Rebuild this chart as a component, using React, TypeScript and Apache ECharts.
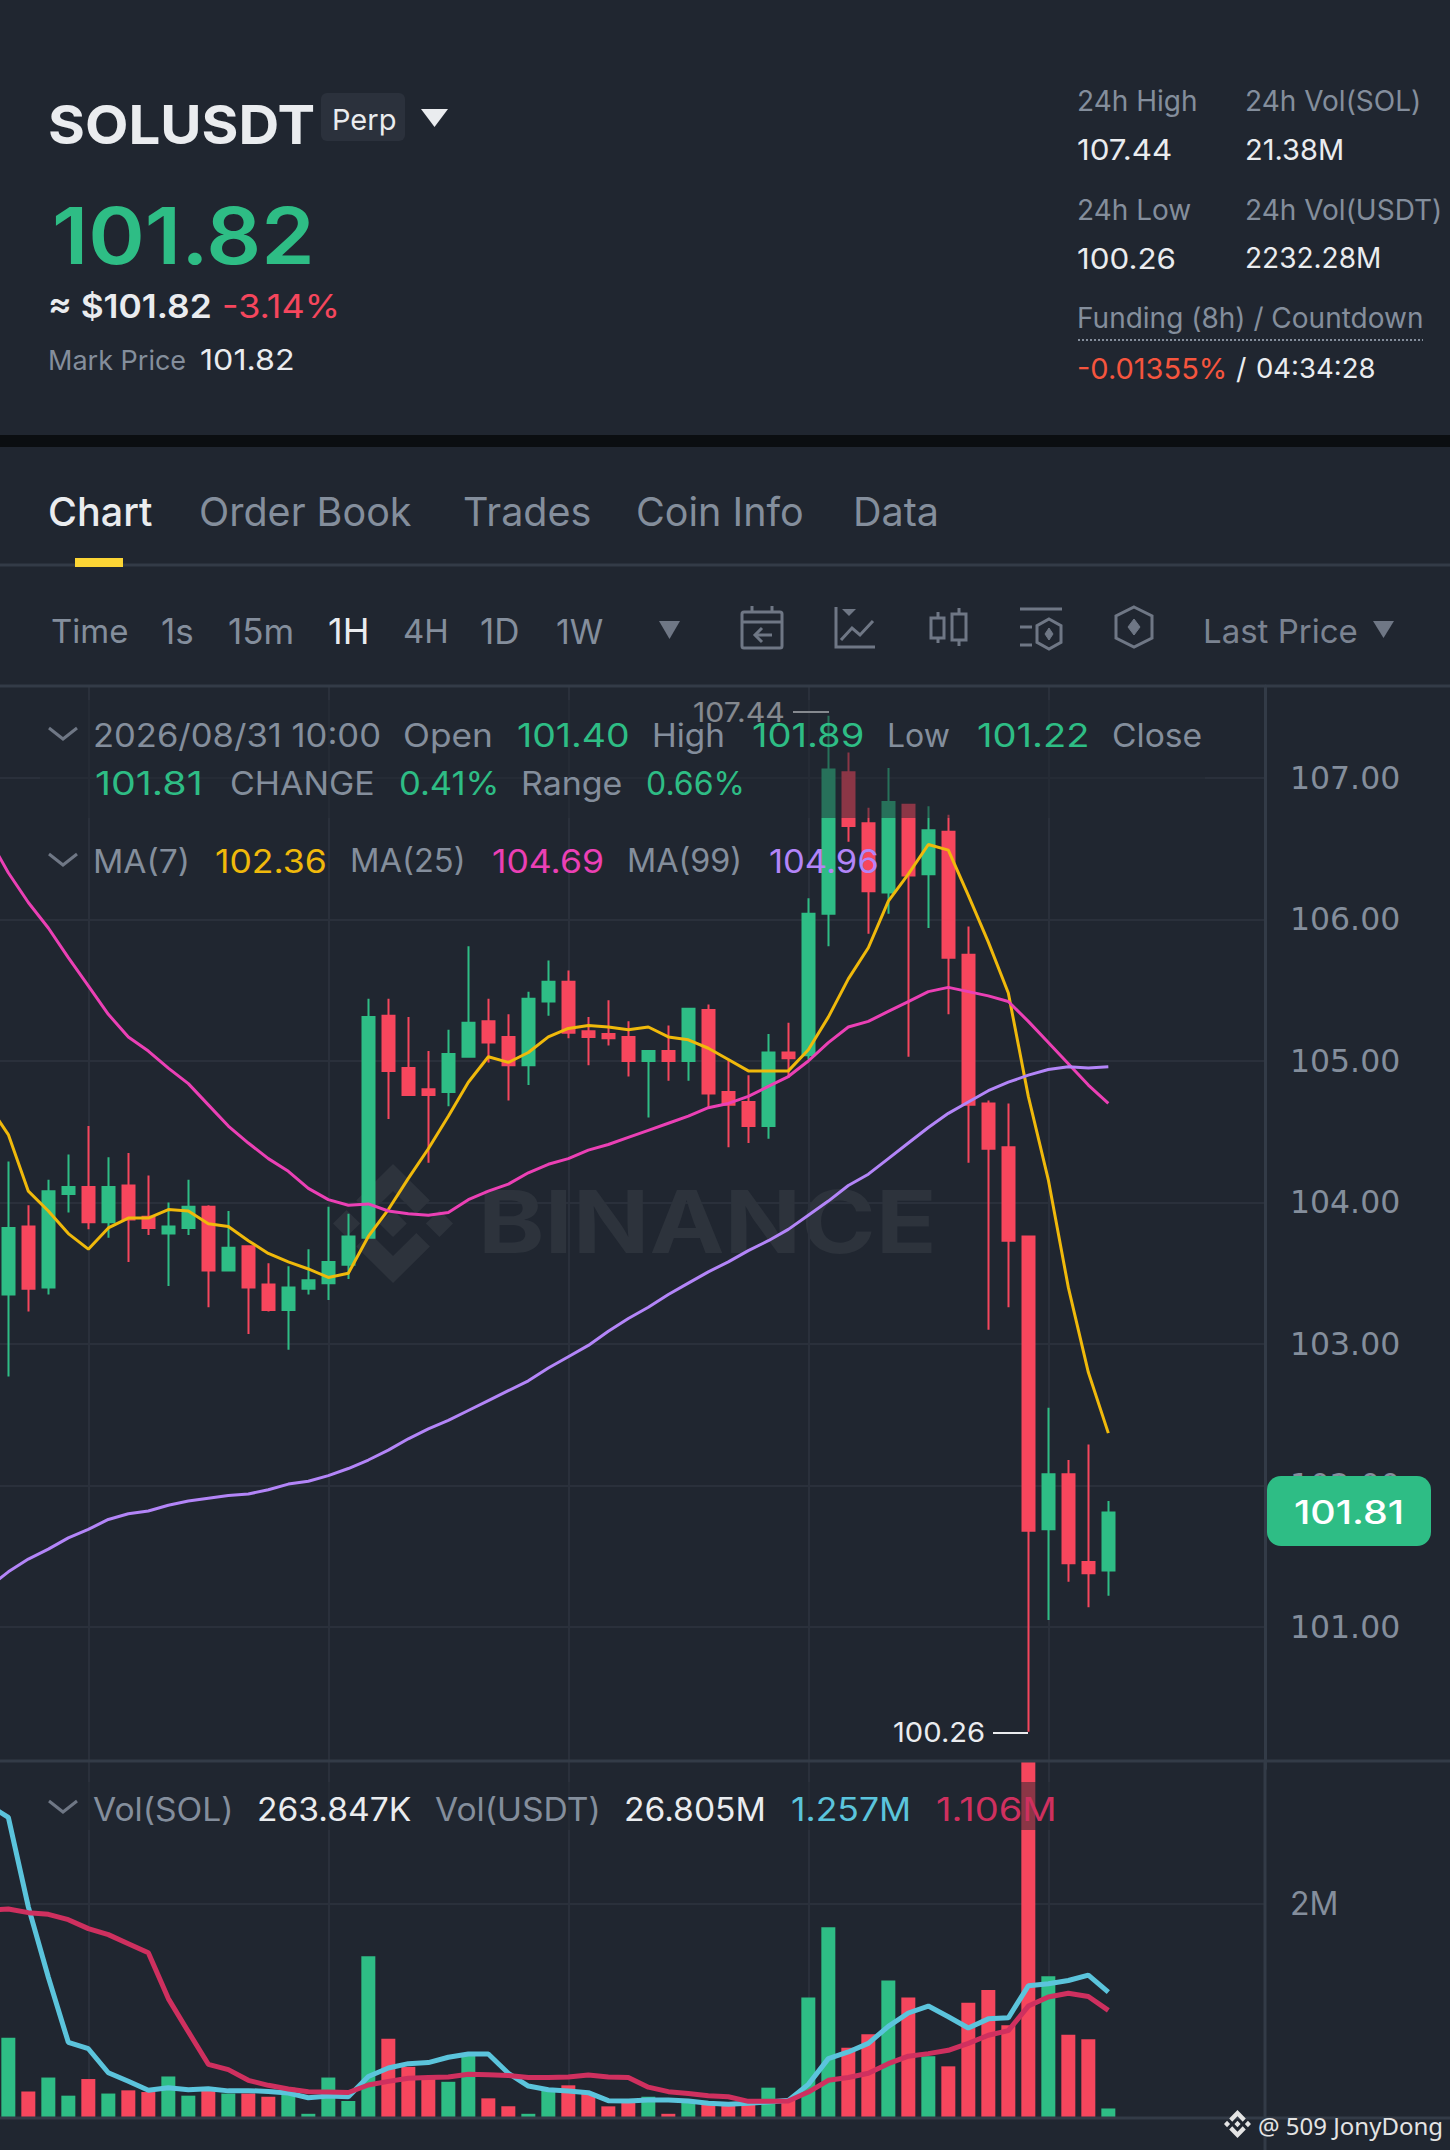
import React, { useEffect, useRef } from "react";
import * as echarts from "echarts";

// ---------- data (index 0 is the first candle visible on screen) ----------
const opens = [103.35,103.83,103.40,104.06,104.11,103.86,104.12,103.90,103.78,103.82,103.97,103.52,103.69,103.42,103.24,103.39,103.43,103.56,103.75,105.32,104.95,104.80,104.78,105.03,105.28,105.17,104.97,105.42,105.56,105.21,105.19,105.17,105.00,105.07,105.00,105.36,104.78,104.71,104.54,105.06,105.04,106.04,107.04,106.68,106.19,106.81,106.32,106.62,105.75,104.70,104.39,103.76,101.69,102.08,101.46,101.40];
const closes = [103.82,103.39,104.08,104.11,103.86,104.11,103.88,103.82,103.83,103.97,103.52,103.68,103.40,103.24,103.40,103.45,103.58,103.76,105.31,104.93,104.76,104.76,105.05,105.27,105.13,104.97,105.44,105.56,105.20,105.17,105.16,105.00,105.07,105.00,105.37,104.77,104.69,104.54,105.06,105.02,106.04,107.06,106.66,106.20,106.83,106.31,106.63,105.73,104.69,104.38,103.73,101.68,102.08,101.45,101.38,101.81];
const lows = [102.77,103.23,103.35,103.93,103.81,103.75,103.58,103.77,103.41,103.77,103.26,103.52,103.07,103.23,102.96,103.35,103.31,103.46,103.75,104.59,104.76,104.28,104.68,105.03,104.99,104.72,104.83,105.32,105.16,104.97,105.11,104.89,104.60,104.86,104.86,104.66,104.39,104.42,104.45,104.88,105.01,105.81,106.55,105.90,106.04,105.03,105.94,105.33,104.28,103.10,103.26,100.26,101.05,101.32,101.14,101.22];
const highs = [104.29,103.98,104.16,104.34,104.54,104.32,104.35,104.19,104.00,104.16,103.98,103.94,103.69,103.57,103.55,103.67,103.97,103.92,105.44,105.44,105.31,105.07,105.22,105.81,105.44,105.33,105.49,105.71,105.64,105.31,105.43,105.28,105.07,105.25,105.37,105.40,105.01,104.90,105.19,105.27,106.15,107.44,107.18,106.79,107.07,106.81,106.80,106.74,105.95,104.72,104.70,103.76,102.55,102.18,102.29,101.89];
const volumes = [0.744,0.24,0.37,0.20,0.356,0.22,0.25,0.234,0.38,0.20,0.26,0.22,0.22,0.19,0.275,0.03,0.37,0.15,1.506,0.734,0.47,0.36,0.33,0.58,0.175,0.10,0.03,0.265,0.297,0.22,0.10,0.14,0.19,0.03,0.156,0.125,0.125,0.125,0.275,0.17,1.12,1.78,0.65,0.775,1.28,1.12,0.57,0.475,1.07,1.19,0.86,3.4,1.32,0.77,0.73,0.08];

// moving averages carry one extra leading point, for the candle just off the left edge
const ma7 = [104.69,104.48,104.08,103.94,103.78,103.67,103.82,103.89,103.89,103.95,103.94,103.85,103.83,103.73,103.64,103.58,103.53,103.47,103.50,103.76,103.95,104.17,104.38,104.61,104.85,105.03,104.99,105.06,105.17,105.23,105.25,105.24,105.22,105.24,105.17,105.15,105.09,105.01,104.93,104.93,104.93,105.08,105.31,105.58,105.80,106.13,106.32,106.53,106.49,106.17,105.84,105.48,104.75,104.16,103.40,102.80,102.37];
const ma25 = [106.58,106.33,106.12,105.94,105.73,105.53,105.33,105.17,105.07,104.95,104.84,104.69,104.54,104.42,104.31,104.22,104.10,104.02,103.98,103.99,103.94,103.92,103.91,103.93,104.02,104.08,104.13,104.21,104.27,104.31,104.37,104.41,104.46,104.51,104.56,104.61,104.67,104.70,104.75,104.82,104.89,105.00,105.13,105.24,105.28,105.35,105.42,105.49,105.52,105.49,105.46,105.42,105.28,105.13,104.98,104.83,104.70];
const ma99 = [101.28,101.39,101.48,101.55,101.63,101.69,101.76,101.80,101.82,101.86,101.89,101.91,101.93,101.94,101.97,102.01,102.03,102.07,102.12,102.18,102.25,102.33,102.40,102.46,102.53,102.60,102.67,102.74,102.83,102.91,102.99,103.09,103.18,103.26,103.35,103.43,103.51,103.58,103.66,103.73,103.81,103.91,104.01,104.12,104.20,104.31,104.42,104.53,104.63,104.71,104.79,104.85,104.90,104.94,104.96,104.95,104.96];
const volMaFast = [2.925,2.81,1.97,1.31,0.70,0.64,0.415,0.335,0.25,0.275,0.255,0.265,0.245,0.247,0.24,0.225,0.18,0.197,0.19,0.38,0.46,0.50,0.51,0.56,0.59,0.59,0.41,0.29,0.256,0.244,0.228,0.153,0.15,0.16,0.16,0.15,0.128,0.12,0.13,0.14,0.156,0.306,0.547,0.61,0.69,0.85,0.975,1.04,0.94,0.834,0.92,0.93,1.23,1.25,1.28,1.33,1.17];
const volMaSlow = [1.94,1.95,1.916,1.90,1.85,1.766,1.71,1.625,1.54,1.11,0.80,0.494,0.444,0.344,0.297,0.2625,0.2375,0.234,0.23,0.30,0.334,0.3625,0.37,0.375,0.40,0.397,0.39,0.37,0.37,0.375,0.394,0.375,0.37,0.28,0.2375,0.22,0.20,0.19,0.147,0.147,0.15,0.234,0.344,0.37,0.41,0.50,0.57,0.594,0.625,0.69,0.766,0.81,1.04,1.125,1.16,1.13,1.00];

const gridCandleIndexes = [4, 16, 28, 40, 52];
const tabs = ["Chart", "Order Book", "Trades", "Coin Info", "Data"];
const intervals = ["Time", "1s", "15m", "1H", "4H", "1D", "1W"];

// ---------- look ----------
const BG = "#202630";
const GREEN = "#2EBD85";
const RED = "#F6465D";
const GRAY = "#848E9C";
const WHITE = "#EAECEF";
const GRID = "#2A303B";
const EDGE = "#333B47";
const ICON = "#6F7785";
const MARK = "#2D333C";
const FONT = "Inter";

const LOGO_D =
  "M38.73 53.2l24.59-24.58 24.6 24.6 14.3-14.31L63.32 0 24.43 38.9l14.3 14.3zM0 63.31l14.3-14.31 14.31 14.31-14.31 14.3zM38.73 73.41l24.59 24.59 24.6-24.6 14.31 14.29-38.9 38.91-38.91-38.88-.02-.02zM98 63.31l14.3-14.31 14.31 14.3-14.31 14.32zM77.83 63.3L63.32 48.78l-10.73 10.73-1.24 1.23-2.54 2.54 14.51 14.5 14.51-14.47z";

const T = (text: string, x: number, y: number, size: number, fill: string, sx = 1, fontWeight: any = 400, z = 60, extra: any = {}) => ({
  type: "text", z, silent: true, x, y, scaleX: sx,
  style: { text, fill, fontSize: size, fontWeight, fontFamily: FONT, verticalAlign: "middle", align: "left", ...extra },
});
const TRI = (x: number, y: number, w: number, h: number, fill: string) => ({
  type: "polygon", z: 60, silent: true,
  shape: { points: [[x, y], [x + w, y], [x + w / 2, y + h]] },
  style: { fill },
});
const LINE = (x1: number, y1: number, x2: number, y2: number, stroke: string, lineWidth = 2, z = 60, extra: any = {}) => ({
  type: "line", z, silent: true, shape: { x1, y1, x2, y2 }, style: { stroke, lineWidth, ...extra },
});
const RECT = (x: number, y: number, width: number, height: number, fill: string, r = 0, z = 60) => ({
  type: "rect", z, silent: true, shape: { x, y, width, height, r }, style: { fill },
});
const PL = (pts: number[][], stroke = ICON, lineWidth = 3) => ({
  type: "polyline", z: 60, silent: true, shape: { points: pts },
  style: { stroke, lineWidth, fill: "none" },
});
const PG = (pts: number[][], fill: string, stroke = ICON, lineWidth = 3) => ({
  type: "polygon", z: 60, silent: true, shape: { points: pts },
  style: { stroke, lineWidth, fill },
});
const CHEV = (x: number, y: number) => PL([[x, y], [x + 14, y + 11], [x + 28, y]], "#6F7785", 3);

function hexagon(cx: number, cy: number, rx: number, ry: number) {
  return [[cx, cy - ry], [cx + rx, cy - ry * 0.55], [cx + rx, cy + ry * 0.55], [cx, cy + ry], [cx - rx, cy + ry * 0.55], [cx - rx, cy - ry * 0.55]];
}
function diamond(cx: number, cy: number, rx: number, ry: number) {
  return [[cx, cy - ry], [cx + rx, cy], [cx, cy + ry], [cx - rx, cy]];
}

function header(): any[] {
  const items: any[] = [
    T("SOLUSDT", 48, 124, 54, WHITE, 1.045, 700),
    RECT(321, 93, 84, 48, "#2B313C", 6),
    T("Perp", 332, 119, 29, WHITE),
    TRI(421, 109, 27, 18, WHITE),
    T("101.82", 52, 236, 78, GREEN, 1.1, 600),
    T("≈ $101.82", 48, 306, 33, WHITE, 1.07, 600),
    T("-3.14%", 222, 306, 33, RED, 1.09),
    T("Mark Price", 48, 360, 27, GRAY),
    T("101.82", 200, 360, 28, WHITE, 1.15),
    T("24h High", 1077, 101, 28, GRAY),
    T("24h Vol(SOL)", 1245, 101, 28, GRAY),
    T("107.44", 1077, 149, 29, WHITE, 1.08),
    T("21.38M", 1245, 149, 29, WHITE),
    T("24h Low", 1077, 210, 28, GRAY),
    T("24h Vol(USDT)", 1245, 210, 28, GRAY),
    T("100.26", 1077, 258, 29, WHITE, 1.08),
    T("2232.28M", 1245, 258, 28, WHITE),
    T("Funding (8h) / Countdown", 1077, 318, 28, GRAY),
    LINE(1078, 340, 1423, 340, GRAY, 2, 60, { lineDash: [2, 2] }),
    T("-0.01355%", 1077, 368, 29, "#F6553E"),
    T("/", 1236, 368, 29, WHITE),
    T("04:34:28", 1256, 368, 27.5, WHITE),
    RECT(0, 435, 1450, 12, "#0B0E11"),
    LINE(0, 565, 1450, 565, EDGE, 3),
    RECT(75, 558, 48, 9, "#FCD535"),
    LINE(0, 686, 1450, 686, EDGE, 3),
  ];
  const tabX = [48, 199, 463, 636, 853];
  tabs.forEach((s, i) => items.push(T(s, tabX[i], 512, 39.5, i === 0 ? WHITE : GRAY, 1, i === 0 ? 500 : 400)));
  const intX = [51, 161, 228, 328, 403, 480, 556];
  const intSize = [33, 35, 35, 36, 33, 35, 34];
  intervals.forEach((s, i) => items.push(T(s, intX[i], 631, intSize[i], i === 3 ? WHITE : GRAY)));
  items.push(TRI(659, 621, 21, 18, ICON));

  // calendar icon
  items.push({ type: "rect", z: 60, silent: true, shape: { x: 742, y: 612, width: 40, height: 36, r: 2 }, style: { stroke: ICON, lineWidth: 3, fill: "none" } });
  items.push(LINE(742, 622, 782, 622, ICON, 3), LINE(752, 606, 752, 612, ICON, 3), LINE(772, 606, 772, 612, ICON, 3));
  items.push(LINE(756, 635, 772, 635, ICON, 3), PL([[762, 628], [755, 635], [762, 642]]));
  // chart-type icon
  items.push(PL([[836, 607], [836, 647], [875, 647]]));
  items.push(TRI(842, 609, 14, 7, ICON));
  items.push(PL([[841, 640], [852, 628], [860, 635], [873, 621]]));
  // candle icon
  items.push({ type: "rect", z: 60, silent: true, shape: { x: 931, y: 618, width: 13, height: 20 }, style: { stroke: ICON, lineWidth: 3, fill: "none" } });
  items.push({ type: "rect", z: 60, silent: true, shape: { x: 952, y: 614, width: 14, height: 26 }, style: { stroke: ICON, lineWidth: 3, fill: "none" } });
  items.push(LINE(938, 612, 938, 618, ICON, 3), LINE(938, 638, 938, 643, ICON, 3), LINE(959, 608, 959, 614, ICON, 3), LINE(959, 640, 959, 646, ICON, 3));
  // settings icon
  items.push(LINE(1020, 609, 1062, 609, ICON, 3), LINE(1020, 627, 1032, 627, ICON, 3), LINE(1020, 645, 1032, 645, ICON, 3));
  items.push(PG(hexagon(1049, 634, 12, 15), "none"), PG(diamond(1049, 634, 4, 6), ICON, ICON, 1));
  // token icon
  items.push(PG(hexagon(1134, 627, 18, 20), "none"), PG(diamond(1134, 627, 6, 8), ICON, ICON, 1));
  items.push(T("Last Price", 1203, 631, 33, "#7B8391"));
  items.push(TRI(1373, 621, 21, 17, ICON));
  return items;
}

function legends(): any[] {
  return [
    // the strip behind the first rows dims what passes beneath
    T("107.44", 693, 712, 27, WHITE, 1.12, 400, 40),
    LINE(793, 712, 829, 712, WHITE, 2, 40),
    RECT(40, 700, 1165, 118, "rgba(32,38,48,0.5)", 0, 50),
    CHEV(49, 728),
    T("2026/08/31 10:00", 93, 735, 32, GRAY, 1.08),
    T("Open", 403, 735, 32, GRAY, 1.1),
    T("101.40", 517, 735, 32, GREEN, 1.17),
    T("High", 652, 735, 32, GRAY, 1.04),
    T("101.89", 752, 735, 32, GREEN, 1.19),
    T("Low", 887, 735, 32, GRAY),
    T("101.22", 977, 735, 32, GREEN, 1.19),
    T("Close", 1112, 735, 32, GRAY, 1.05),
    T("101.81", 95, 783, 32, GREEN, 1.23),
    T("CHANGE", 230, 783, 32, GRAY, 1.06),
    T("0.41%", 399, 783, 32, GREEN, 1.08),
    T("Range", 521, 783, 32, GRAY, 1.06),
    T("0.66%", 646, 783, 32, GREEN),
    CHEV(49, 854),
    T("MA(7)", 93, 861, 32, GRAY, 1.05),
    T("102.36", 215, 861, 32, "#F0B90B", 1.11),
    T("MA(25)", 350, 861, 32, GRAY, 1.02),
    T("104.69", 492, 861, 32, "#EB40B5", 1.11),
    T("MA(99)", 627, 861, 32, GRAY, 1.01),
    T("104.96", 769, 861, 32, "#B385F8", 1.08),
    // low marker and last-price pill
    T("100.26", 893, 1732, 27, WHITE, 1.08),
    LINE(993, 1733, 1028, 1733, WHITE, 2),
    RECT(1267, 1476, 164, 70, GREEN, 14),
    T("101.81", 1349, 1512, 32, "#FFFFFF", 1.23, 500, 60, { align: "center" }),
    // volume legend
    RECT(40, 1782, 1020, 48, "rgba(32,38,48,0.5)", 0, 50),
    CHEV(49, 1801),
    T("Vol(SOL)", 93, 1809, 32, GRAY, 1.05),
    T("263.847K", 257, 1809, 32, WHITE, 1.05),
    T("Vol(USDT)", 435, 1809, 32, GRAY, 1.05),
    T("26.805M", 624, 1809, 32, WHITE, 1.05),
    T("1.257M", 791, 1809, 32, "#5BC4DC", 1.11),
    T("1.106M", 936, 1809, 32, "#CF305F", 1.19),
    // pane borders
    LINE(0, 1761, 1450, 1761, EDGE, 3),
    LINE(0, 2118, 1450, 2118, EDGE, 3),
    LINE(1265, 1761, 1265, 2150, EDGE, 3),
    // credit
    { type: "binanceLogo", z: 60, silent: true, x: 1224, y: 2110, scaleX: 27 / 126.61, scaleY: 28 / 126.61, style: { fill: "#E4E4E4" } },
    T("@ 509 JonyDong", 1258, 2125, 24, "#E4E4E4", 1, 400, 60, { fontFamily: "Noto Sans" }),
    // watermark
    { type: "binanceLogo", z: 1, silent: true, x: 333, y: 1164, scaleX: 120 / 126.61, scaleY: 119 / 126.61, style: { fill: MARK } },
    { type: "text", z: 1, silent: true, x: 478, y: 1222, scaleX: 1.17, style: { text: "BINANCE", fill: MARK, fontSize: 86, fontWeight: 700, fontFamily: FONT, verticalAlign: "middle", align: "left" } },
  ];
}

export default function App() {
  const ref = useRef<HTMLDivElement | null>(null);
  useEffect(() => {
    if (!ref.current) return;
    echarts.graphic.registerShape("binanceLogo", echarts.graphic.extendPath(LOGO_D, {}));
    const chart = echarts.init(ref.current, undefined, { renderer: "svg" });

    // 64 slots: one just off the left edge, the 56 candles, and the empty space up to the price scale
    const categories = Array.from({ length: 64 }, (_, i) => `c${i - 1}`);
    const pad = (arr: any[]) => ["-" as any, ...arr];
    const candle = opens.map((o, i) => [o, closes[i], lows[i], highs[i]]);
    const bars = volumes.map((v, i) => ({ value: v, itemStyle: { color: closes[i] >= opens[i] ? GREEN : RED } }));

    const priceMin = 100, priceMax = 107.65, volMax = 3.347;
    const vLines = () => ({
      silent: true, symbol: "none", z: 1, label: { show: false }, animation: false,
      lineStyle: { color: GRID, width: 2, type: "solid" },
      data: gridCandleIndexes.map((i) => ({ xAxis: categories[i + 1] })),
    });
    const gridCandles = { left: -21.67, width: 1280, outerBoundsMode: "none" };
    const gridAxis = { left: 0, width: 1265, outerBoundsMode: "none" };
    const priceBox = { top: 686, height: 1082.5 };
    const volBox = { top: 1760, height: 357 };
    const hiddenX = (gridIndex: number) => ({
      type: "category", gridIndex, data: categories, show: false,
      axisLine: { show: false }, axisTick: { show: false }, axisLabel: { show: false }, splitLine: { show: false },
    });

    chart.setOption({
      animation: false,
      backgroundColor: BG,
      grid: [
        { ...gridCandles, ...priceBox },
        { ...gridAxis, ...priceBox },
        { ...gridCandles, ...volBox },
        { ...gridAxis, ...volBox },
      ],
      xAxis: [hiddenX(0), hiddenX(1), hiddenX(2), hiddenX(3)],
      yAxis: [
        { type: "value", gridIndex: 0, min: priceMin, max: priceMax, show: false, splitLine: { show: false } },
        {
          type: "value", gridIndex: 1, position: "right", min: priceMin, max: priceMax, interval: 1,
          axisLine: { show: true, onZero: false, lineStyle: { color: EDGE, width: 3 } },
          axisTick: { show: false },
          axisLabel: { margin: 25, padding: [0, 0, 5, 0], color: GRAY, fontSize: 31.5, fontFamily: "DejaVu Sans", showMinLabel: false, showMaxLabel: false, formatter: (v: number) => v.toFixed(2) },
          splitLine: { show: true, showMinLine: false, showMaxLine: false, lineStyle: { color: GRID, width: 2 } },
        },
        { type: "value", gridIndex: 2, min: 0, max: volMax, show: false, splitLine: { show: false } },
        {
          type: "value", gridIndex: 3, position: "right", min: 0, max: volMax, interval: 2,
          axisLine: { show: false }, axisTick: { show: false },
          axisLabel: { margin: 25, padding: [0, 0, 2, 0], color: GRAY, fontSize: 32, fontFamily: FONT, showMinLabel: false, showMaxLabel: false, formatter: (v: number) => `${v}M` },
          splitLine: { show: true, showMinLine: false, showMaxLine: false, lineStyle: { color: GRID, width: 2 } },
        },
      ],
      series: [
        {
          type: "candlestick", xAxisIndex: 0, yAxisIndex: 0, z: 2,
          barWidth: 12,
          data: pad(candle),
          itemStyle: { color: GREEN, color0: RED, borderColor: GREEN, borderColor0: RED, borderWidth: 2 },
        },
        { type: "line", name: "MA(7)", xAxisIndex: 0, yAxisIndex: 0, z: 3, data: ma7, symbol: "none", lineStyle: { color: "#F0B90B", width: 3 } },
        { type: "line", name: "MA(25)", xAxisIndex: 0, yAxisIndex: 0, z: 3, data: ma25, symbol: "none", lineStyle: { color: "#EB40B5", width: 3 } },
        { type: "line", name: "MA(99)", xAxisIndex: 0, yAxisIndex: 0, z: 3, data: ma99, symbol: "none", lineStyle: { color: "#B385F8", width: 3 }, markLine: vLines() },
        { type: "bar", xAxisIndex: 2, yAxisIndex: 2, z: 2, barWidth: 14, data: pad(bars) },
        { type: "line", xAxisIndex: 2, yAxisIndex: 2, z: 3, data: volMaFast, symbol: "none", lineStyle: { color: "#5BC4DC", width: 5 }, markLine: vLines() },
        { type: "line", xAxisIndex: 2, yAxisIndex: 2, z: 4, data: volMaSlow, symbol: "none", lineStyle: { color: "#CF305F", width: 5 } },
      ],
      graphic: { elements: [...header(), ...legends()] },
    });
    return () => chart.dispose();
  }, []);
  return <div ref={ref} style={{ position: "absolute", left: 0, top: 0, width: 1450, height: 2150 }} />;
}
